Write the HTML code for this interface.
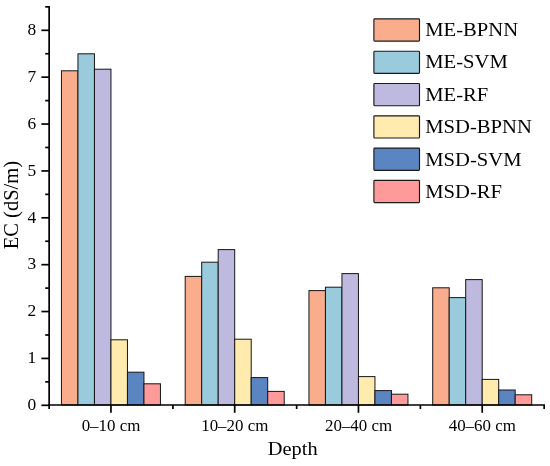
<!DOCTYPE html>
<html><head><meta charset="utf-8"><title>EC by Depth</title>
<style>html,body{margin:0;padding:0;background:#fff}svg{display:block}text{font-family:"Liberation Serif","Times New Roman",serif;fill:#000}</style></head><body>
<svg width="550" height="466" viewBox="0 0 550 466">
<rect width="550" height="466" fill="#fff"/>
<rect x="61.45" y="70.80" width="16.5" height="334.20" fill="#F9AD8D" stroke="#161616" stroke-width="1"/>
<rect x="77.95" y="53.80" width="16.5" height="351.20" fill="#99CBDC" stroke="#161616" stroke-width="1"/>
<rect x="94.45" y="69.20" width="16.5" height="335.80" fill="#BEB9DE" stroke="#161616" stroke-width="1"/>
<rect x="110.95" y="339.80" width="16.5" height="65.20" fill="#FFEBAD" stroke="#161616" stroke-width="1"/>
<rect x="127.45" y="372.20" width="16.5" height="32.80" fill="#5B85C1" stroke="#161616" stroke-width="1"/>
<rect x="143.95" y="383.80" width="16.5" height="21.20" fill="#FF9A9B" stroke="#161616" stroke-width="1"/>
<rect x="185.20" y="276.40" width="16.5" height="128.60" fill="#F9AD8D" stroke="#161616" stroke-width="1"/>
<rect x="201.70" y="262.20" width="16.5" height="142.80" fill="#99CBDC" stroke="#161616" stroke-width="1"/>
<rect x="218.20" y="249.60" width="16.5" height="155.40" fill="#BEB9DE" stroke="#161616" stroke-width="1"/>
<rect x="234.70" y="339.20" width="16.5" height="65.80" fill="#FFEBAD" stroke="#161616" stroke-width="1"/>
<rect x="251.20" y="377.60" width="16.5" height="27.40" fill="#5B85C1" stroke="#161616" stroke-width="1"/>
<rect x="267.70" y="391.40" width="16.5" height="13.60" fill="#FF9A9B" stroke="#161616" stroke-width="1"/>
<rect x="308.95" y="290.60" width="16.5" height="114.40" fill="#F9AD8D" stroke="#161616" stroke-width="1"/>
<rect x="325.45" y="287.20" width="16.5" height="117.80" fill="#99CBDC" stroke="#161616" stroke-width="1"/>
<rect x="341.95" y="273.60" width="16.5" height="131.40" fill="#BEB9DE" stroke="#161616" stroke-width="1"/>
<rect x="358.45" y="376.60" width="16.5" height="28.40" fill="#FFEBAD" stroke="#161616" stroke-width="1"/>
<rect x="374.95" y="390.60" width="16.5" height="14.40" fill="#5B85C1" stroke="#161616" stroke-width="1"/>
<rect x="391.45" y="394.20" width="16.5" height="10.80" fill="#FF9A9B" stroke="#161616" stroke-width="1"/>
<rect x="432.70" y="287.80" width="16.5" height="117.20" fill="#F9AD8D" stroke="#161616" stroke-width="1"/>
<rect x="449.20" y="297.60" width="16.5" height="107.40" fill="#99CBDC" stroke="#161616" stroke-width="1"/>
<rect x="465.70" y="279.60" width="16.5" height="125.40" fill="#BEB9DE" stroke="#161616" stroke-width="1"/>
<rect x="482.20" y="379.40" width="16.5" height="25.60" fill="#FFEBAD" stroke="#161616" stroke-width="1"/>
<rect x="498.70" y="390.00" width="16.5" height="15.00" fill="#5B85C1" stroke="#161616" stroke-width="1"/>
<rect x="515.20" y="394.80" width="16.5" height="10.20" fill="#FF9A9B" stroke="#161616" stroke-width="1"/>
<g stroke="#000" stroke-width="1.7" fill="none">
<path d="M49.15 5.9V405.85"/>
<path d="M48.3 405.0H545.00"/>
<path d="M41.4 405.30H49.15"/>
<path d="M45.2 381.86H49.15"/>
<path d="M41.4 358.43H49.15"/>
<path d="M45.2 334.99H49.15"/>
<path d="M41.4 311.55H49.15"/>
<path d="M45.2 288.11H49.15"/>
<path d="M41.4 264.68H49.15"/>
<path d="M45.2 241.24H49.15"/>
<path d="M41.4 217.80H49.15"/>
<path d="M45.2 194.36H49.15"/>
<path d="M41.4 170.93H49.15"/>
<path d="M45.2 147.49H49.15"/>
<path d="M41.4 124.05H49.15"/>
<path d="M45.2 100.61H49.15"/>
<path d="M41.4 77.17H49.15"/>
<path d="M45.2 53.74H49.15"/>
<path d="M41.4 30.30H49.15"/>
<path d="M45.2 6.86H49.15"/>
<path d="M110.95 405.0V412.8"/>
<path d="M234.70 405.0V412.8"/>
<path d="M358.45 405.0V412.8"/>
<path d="M482.20 405.0V412.8"/>
<path d="M172.90 405.0V409.0"/>
<path d="M296.65 405.0V409.0"/>
<path d="M420.40 405.0V409.0"/>
<path d="M544.15 405.0V409.0"/>
<path d="M49.15 405.0V409.0"/>
</g>
<text x="36.1" y="410.10" font-size="17.4" text-anchor="end">0</text>
<text x="36.1" y="363.23" font-size="17.4" text-anchor="end">1</text>
<text x="36.1" y="316.35" font-size="17.4" text-anchor="end">2</text>
<text x="36.1" y="269.48" font-size="17.4" text-anchor="end">3</text>
<text x="36.1" y="222.60" font-size="17.4" text-anchor="end">4</text>
<text x="36.1" y="175.72" font-size="17.4" text-anchor="end">5</text>
<text x="36.1" y="128.85" font-size="17.4" text-anchor="end">6</text>
<text x="36.1" y="81.97" font-size="17.4" text-anchor="end">7</text>
<text x="36.1" y="35.10" font-size="17.4" text-anchor="end">8</text>
<text x="111.00" y="431.3" font-size="16.9" text-anchor="middle">0–10 cm</text>
<text x="234.75" y="431.3" font-size="16.9" text-anchor="middle">10–20 cm</text>
<text x="358.50" y="431.3" font-size="16.9" text-anchor="middle">20–40 cm</text>
<text x="482.25" y="431.3" font-size="16.9" text-anchor="middle">40–60 cm</text>
<text transform="translate(267.8 455.3) scale(1.045 1)" font-size="19.5" text-anchor="start">Depth</text>
<text transform="translate(18.4 205.1) rotate(-90) scale(1.0 1)" font-size="20.5" text-anchor="middle">EC (dS/m)</text>
<rect x="373.9" y="18.90" width="45.6" height="22.2" rx="0.8" fill="#F9AD8D" stroke="#1a1a1a" stroke-width="1.15"/>
<text transform="translate(425.3 36.0) scale(1.085 1)" font-size="19.0" text-anchor="start">ME-BPNN</text>
<rect x="373.9" y="51.20" width="45.6" height="22.2" rx="0.8" fill="#99CBDC" stroke="#1a1a1a" stroke-width="1.15"/>
<text transform="translate(425.3 68.4) scale(1.085 1)" font-size="19.0" text-anchor="start">ME-SVM</text>
<rect x="373.9" y="83.50" width="45.6" height="22.2" rx="0.8" fill="#BEB9DE" stroke="#1a1a1a" stroke-width="1.15"/>
<text transform="translate(425.3 100.8) scale(1.085 1)" font-size="19.0" text-anchor="start">ME-RF</text>
<rect x="373.9" y="115.80" width="45.6" height="22.2" rx="0.8" fill="#FFEBAD" stroke="#1a1a1a" stroke-width="1.15"/>
<text transform="translate(425.3 133.2) scale(1.085 1)" font-size="19.0" text-anchor="start">MSD-BPNN</text>
<rect x="373.9" y="148.10" width="45.6" height="22.2" rx="0.8" fill="#5B85C1" stroke="#1a1a1a" stroke-width="1.15"/>
<text transform="translate(425.3 165.6) scale(1.085 1)" font-size="19.0" text-anchor="start">MSD-SVM</text>
<rect x="373.9" y="180.40" width="45.6" height="22.2" rx="0.8" fill="#FF9A9B" stroke="#1a1a1a" stroke-width="1.15"/>
<text transform="translate(425.3 198.0) scale(1.085 1)" font-size="19.0" text-anchor="start">MSD-RF</text>
</svg></body></html>
